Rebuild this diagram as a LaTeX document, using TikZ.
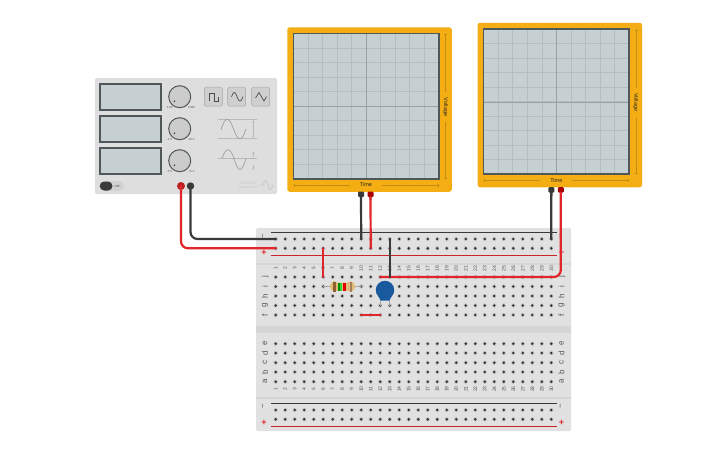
\documentclass[tikz,border=0pt]{standalone}
\usepackage{fontspec}
\setmainfont{Liberation Sans}
\usetikzlibrary{calc,arrows.meta}
\definecolor{board}{HTML}{E1E1E1}
\definecolor{boardd}{HTML}{D6D6D6}
\definecolor{psu}{HTML}{DEDEDE}
\definecolor{lcd}{HTML}{C6D0D2}
\definecolor{lcdb}{HTML}{4F5758}
\definecolor{gridl}{HTML}{B4BEC0}
\definecolor{gridc}{HTML}{98A2A4}
\definecolor{amber}{HTML}{F4AE14}
\definecolor{amberd}{HTML}{C08E16}
\definecolor{wred}{HTML}{E0252B}
\definecolor{wblk}{HTML}{3A3A3A}
\definecolor{rail}{HTML}{C8262A}
\definecolor{ink}{HTML}{555555}
\definecolor{capblue}{HTML}{185A9D}
\definecolor{restan}{HTML}{E0BC78}
\tikzset{
 x=1pt,y=-1pt,
 wire/.style={line width=2.2pt,rounded corners=7pt,line cap=round},
 redw/.style={wire,draw=wred},
 blkw/.style={wire,draw=wblk},
 lcdbox/.style={draw=lcdb,line width=1.8pt,fill=lcd},
 knob/.style={circle,draw=lcdb,line width=1pt,fill=psu!92!black,minimum size=22pt,inner sep=0pt},
 wavebtn/.style={draw=gray!70,line width=.5pt,fill=gray!38,rounded corners=1.5pt,minimum width=18pt,minimum height=19pt,inner sep=0pt},
 tiny/.style={font=\fontsize{3}{3}\selectfont,text=ink,inner sep=0pt},
 brdlab/.style={font=\fontsize{5}{5}\selectfont,text=ink,inner sep=0pt,rotate=90},
 letlab/.style={font=\fontsize{8}{8}\selectfont,text=ink,inner sep=0pt,rotate=90},
 scopelab/.style={font=\fontsize{5.5}{5.5}\selectfont,text=black!85,inner sep=0pt},
 deco/.style={draw=gray!55,line width=.5pt},
 sinew/.style={draw=gray!75,line width=.7pt},
 scale line/.style={draw=amberd,line width=.4pt},
}
\begin{document}
\begin{tikzpicture}
\useasboundingbox (0,0) rectangle (725,453);
\fill[white] (0,0) rectangle (725,453);
% ---------- breadboard ----------
\node[draw=none,fill=board,rounded corners=1.5pt,minimum width=315pt,minimum height=203pt,inner sep=0pt] (board) at (413.5,329.5) {};
\fill[boardd] (256,263) rectangle (571,265);
\fill[boardd] (256,325.5) rectangle (571,333);
\fill[boardd] (256,396.5) rectangle (571,398.5);
\coordinate (lt1) at (270.5,232); \coordinate (lt2) at (557,232);
\coordinate (lr1) at (270.5,255.3); \coordinate (lr2) at (557,255.3);
\coordinate (bt1) at (270.5,403); \coordinate (bt2) at (557,403);
\coordinate (br1) at (270.5,426); \coordinate (br2) at (557,426);
\draw[wblk,line width=.8pt] (lt1) -- (lt2);
\draw[rail,line width=.8pt] (lr1) -- (lr2);
\draw[wblk,line width=.8pt] (bt1) -- (bt2);
\draw[rail,line width=.8pt] (br1) -- (br2);
\foreach \lx/\nn in {264/a,561.5/b}{
 \node[font=\fontsize{8}{8}\selectfont,text=ink,inner sep=0pt,rotate=90] (m1\nn) at (\lx,236.5) {\textminus};
 \node[font=\bfseries\fontsize{9}{9}\selectfont,text=wred,inner sep=0pt] (p1\nn) at (\lx,252.5) {+};
 \node[font=\fontsize{8}{8}\selectfont,text=ink,inner sep=0pt,rotate=90] (m2\nn) at (\lx,406.5) {\textminus};
 \node[font=\bfseries\fontsize{9}{9}\selectfont,text=wred,inner sep=0pt] (p2\nn) at (\lx,422.5) {+};
}
\foreach \nm/\yy in {rA/239,rB/248.3,j/277,i/286.5,h/296,g/305.5,f/315,e/343.7,d/353,c/362.7,b/372,a/381.7,sA/410,sB/419.3}{
 \foreach \c in {1,...,30}{
  \pgfmathsetmacro\xx{275.7+(\c-1)*9.503}
  \coordinate (\nm-\c) at (\xx,\yy);
  \fill[gray!40] (\xx,\yy) circle (2.3pt);
  \fill[black!80] (\xx,\yy) circle (1.45pt);
 }
}
\foreach \c in {1,...,30}{
 \pgfmathsetmacro\xx{275.7+(\c-1)*9.503}
 \node[brdlab] (nt\c) at (\xx,268.5) {\c};
 \node[brdlab] (nb\c) at (\xx,389) {\c};
}
\foreach \l/\yy in {j/277,i/286.5,h/296,g/305.5,f/315,e/343.7,d/353,c/362.7,b/372,a/381.7}{
 \node[letlab] (ll\l) at (265,\yy) {\l};
 \node[letlab] (lr\l) at (561.5,\yy) {\l};
}
% ---------- oscilloscopes ----------
\foreach \nm/\dx/\dy in {sa/0/0,sb/190.3/-4.5}{
\begin{scope}[shift={(\dx,\dy)}]
 \node[fill=amber,rounded corners=2.5pt,minimum width=164.5pt,minimum height=164.5pt,inner sep=0pt] (\nm) at (369.5,109.5) {};
 \fill[lcd] (293.3,33.3) rectangle (438.7,178.7);
 \foreach \k in {1,...,9}{
  \draw[gridl,line width=.4pt] ({293.3+\k*14.54},33.3) -- ({293.3+\k*14.54},178.7);
  \draw[gridl,line width=.4pt] (293.3,{33.3+\k*14.54}) -- (438.7,{33.3+\k*14.54});
 }
 \draw[gridc,line width=.6pt] (366,33.3) -- (366,178.7);
 \draw[gridc,line width=.6pt] (293.3,106.5) -- (438.7,106.5);
 \draw[lcdb,line width=1.6pt] (293.3,33.3) rectangle (438.7,178.7);
 \node[scopelab] (\nm-time) at (366,185) {Time};
 \node[scopelab,rotate=-90] (\nm-volt) at (445.5,107) {Voltage};
 \draw[scale line,{|[width=2.5pt,length=.5pt]}-] (294,185) -- (350,185);
 \draw[scale line,-{|[width=2.5pt,length=.5pt]}] (382,185) -- (438,185);
 \draw[scale line,{|[width=2.5pt,length=.5pt]}-] (445.5,34) -- (445.5,92);
 \draw[scale line,-{|[width=2.5pt,length=.5pt]}] (445.5,122) -- (445.5,178);
 \fill[gray!70] (359.7,196) rectangle (362.3,200);
 \fill[gray!70] (369.2,196) rectangle (371.8,200);
 \fill[wblk,rounded corners=1pt] (358,191.7) rectangle (364,197);
 \fill[red!65!black,rounded corners=1pt] (367.5,191.7) rectangle (373.5,197);
 \coordinate (\nm-blk) at (361,197);
 \coordinate (\nm-red) at (370.5,197);
\end{scope}
}
% ---------- power supply / function generator ----------
\node[fill=psu,rounded corners=1.5pt,minimum width=182pt,minimum height=116pt,inner sep=0pt] (gen) at (186,136) {};
\draw[gray!25,line width=.5pt] (95,178.5) -- (277,178.5);
\node[lcdbox,minimum width=60.8pt,minimum height=25.8pt,inner sep=0pt] (lcd1) at (130.6,97.2) {};
\node[lcdbox,minimum width=60.8pt,minimum height=25.8pt,inner sep=0pt] (lcd2) at (130.6,129) {};
\node[lcdbox,minimum width=60.8pt,minimum height=25.8pt,inner sep=0pt] (lcd3) at (130.6,161.2) {};
\foreach \i/\yy/\la/\lb in {1/96.7/1.00/1000,2/128.7/-1 V/10 V,3/160.7/-5 V/+5 V}{
 \node[knob] (knob\i) at (179.7,\yy) {};
 \fill[wblk] (174.5,\yy+4.5) circle (.9pt);
 \node[tiny] (kl\i) at (169.5,\yy+11) {\la};
 \node[tiny] (kr\i) at (191.5,\yy+11) {\lb};
}
\node[wavebtn] (btn1) at (213.3,96.7) {};
\node[wavebtn] (btn2) at (236.7,96.7) {};
\node[wavebtn] (btn3) at (260.7,96.7) {};
\draw[black!70,line width=.7pt] (209,101) -- (209,93.5) -- (214,93.5) -- (214,101) -- (218,101) -- (218,97);
\draw[black!70,line width=.7pt] (231.5,96.7) .. controls (233.5,91) and (235,91) .. (237,96.7) .. controls (239,102.5) and (241,102.5) .. (243,96.7);
\draw[black!70,line width=.7pt] (255.5,98) -- (259,92.5) -- (264,101) -- (266.5,96.5);
% amplitude decoration
\draw[deco] (217.7,119.5) -- (256.7,119.5);
\draw[deco] (217.7,138.5) -- (256.7,138.5);
\draw[sinew] (221,130) .. controls (225,116) and (229,116) .. (233.5,129) .. controls (238,142) and (242,142) .. (246,129);
\draw[deco,-{Latex[length=2.5pt,width=2.5pt]}] (253.3,129) -- (253.3,120);
\draw[deco,-{Latex[length=2.5pt,width=2.5pt]}] (253.3,129) -- (253.3,138);
\draw[deco] (217.7,158.3) -- (256.7,158.3);
\draw[sinew] (222,158.3) .. controls (226,147) and (230,147) .. (234,158.3) .. controls (238,173) and (242,173) .. (246,158.3);
\draw[deco,-{Latex[length=2.5pt,width=2.5pt]}] (253.3,156.5) -- (253.3,151.5);
\draw[deco,-{Latex[length=2.5pt,width=2.5pt]}] (253.3,164.5) -- (253.3,170);
% footer
\node[fill=gray!35,rounded corners=5pt,minimum width=24pt,minimum height=10pt,inner sep=0pt] (sw) at (112,186) {};
\fill[wblk,rounded corners=4.5pt] (99.7,181.5) rectangle (112.5,190.5);
\node[tiny,text=black!70] (swt) at (117.5,186) {OFF};
\node[tiny,text=gray!45,font=\fontsize{3}{3.5}\selectfont,align=center] (brand) at (248,185.5) {FUNCTION\\GENERATOR};
\draw[gray!50,line width=.5pt] (260,185) -- (263,185) .. controls (265,179) and (267,179) .. (268,185) .. controls (269,191) and (271,191) .. (273,185);
\node[circle,fill=wred!85!black,minimum size=8pt,inner sep=0pt] (tplus) at (181,186) {};
\node[circle,fill=wblk,minimum size=7.5pt,inner sep=0pt] (tminus) at (190.5,186) {};
% ---------- wires ----------
\draw[redw] (tplus.center) -- (tplus.center |- rB-1) -- (rB-1);
\draw[blkw] (tminus.center) -- (tminus.center |- rA-1) -- (rA-1);
\draw[blkw,rounded corners=0pt] (sa-blk) -- (rA-10);
\draw[redw,rounded corners=0pt] (sa-red) -- (rB-11);
\draw[blkw,rounded corners=0pt] (sb-blk) -- (rA-30);
\draw[redw] (sb-red) -- (sb-red |- j-1) -- (j-12);
\draw[blkw,rounded corners=0pt] (rA-13) -- (j-13);
\draw[redw,rounded corners=0pt] (rB-6) -- (j-6);
\draw[redw,rounded corners=0pt] (f-10) -- (f-12);
% ---------- resistor ----------
\draw[gray!70,line width=1.4pt,line cap=round] (i-6) -- (i-10);
\fill[restan] (329.5,286.5) .. controls (332,280.5) and (335,280.5) .. (337,282.5)
 -- (348,282.5) .. controls (350,280.5) and (353,280.5) .. (355.5,286.5)
 .. controls (353,292.5) and (350,292.5) .. (348,290.5) -- (337,290.5) .. controls (335,292.5) and (332,292.5) .. (329.5,286.5) -- cycle;
\fill[brown!75!black] (333,281.5) rectangle (336,291.5);
\fill[green!55!black] (337.5,282.5) rectangle (339.5,290.5);
\fill[green!80!black!80] (340,282.5) rectangle (341.5,290.5);
\fill[red!90!black] (343,282.5) rectangle (345.5,290.5);
\fill[brown!55!gray] (350,281.5) rectangle (351.5,291.5);
% ---------- capacitor ----------
\draw[gray!70,line width=1.4pt] (g-12) -- ++(0,-9);
\draw[gray!70,line width=1.4pt] (g-13) -- ++(0,-9);
\node[circle,fill=capblue,minimum size=18.5pt,inner sep=0pt] (cap) at (385,290) {};
\fill[capblue] (376.5,292) -- (393.5,292) -- (389.5,300.5) -- (380.5,300.5) -- cycle;
\end{tikzpicture}
\end{document}
